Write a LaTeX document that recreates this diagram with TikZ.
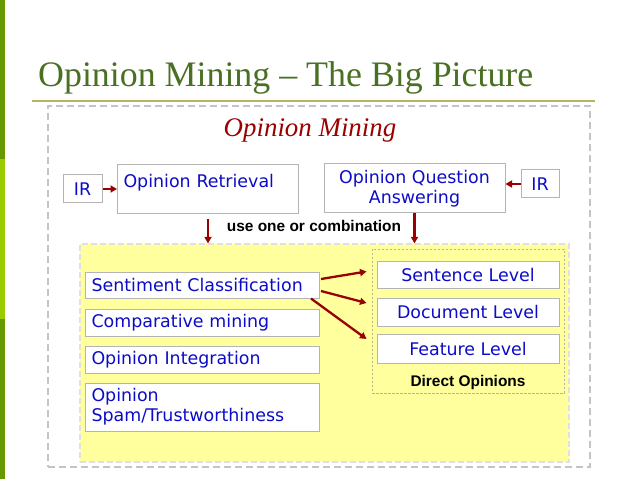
\documentclass[tikz,border=0pt]{standalone}
\usepackage{fontspec}
\setmainfont{Liberation Serif}
\newfontfamily\vfont{DejaVu Sans}
\newfontfamily\afont{Liberation Sans}
\usetikzlibrary{arrows.meta,calc}
\definecolor{titlegreen}{HTML}{4A7023}
\definecolor{bardark}{HTML}{669900}
\definecolor{barlight}{HTML}{99CC00}
\definecolor{uline}{HTML}{B4B464}
\definecolor{dashgray}{HTML}{C4C4C4}
\definecolor{boxgray}{HTML}{B4B4B4}
\definecolor{textblue}{HTML}{0C0CC8}
\definecolor{arrred}{HTML}{990000}
\definecolor{paleyellow}{HTML}{FFFF9E}
\definecolor{innerdash}{HTML}{B8B890}
\tikzset{
  bluebox/.style={draw=boxgray, fill=white, line width=1bp, text=textblue,
    font=\vfont\fontsize{17.5}{20}\selectfont, inner sep=0pt},
  leftbox/.style={bluebox, anchor=west, text width=222bp, align=left,
    inner xsep=6bp, minimum width=234bp},
  levelbox/.style={bluebox, minimum width=182bp, align=center},
  arr/.style={draw=arrred, line width=2.3bp, -{Triangle[length=6.5bp,width=7bp]}},
  boldlabel/.style={font=\afont\bfseries\fontsize{15.5}{18}\selectfont, text=black, inner sep=0pt, anchor=base},
}
\begin{document}
\begin{tikzpicture}[x=1bp,y=-1bp]
\useasboundingbox (0,0) rectangle (638,479);
\fill[white] (0,0) rectangle (638,479);
% side bar
\fill[bardark] (0,0) rectangle (5,159);
\fill[barlight] (0,159) rectangle (5,319);
\fill[bardark] (0,319) rectangle (5,479);
% title
\node[anchor=base west, inner sep=0pt, text=titlegreen, font=\fontsize{36}{40}\selectfont] (title) at (38,87) {Opinion Mining – The Big Picture};
\draw[uline, line width=2bp] (32,101) -- (595,101);
% outer dashed frame
\node[draw=dashgray, line width=1.5bp, dash pattern=on 7bp off 4bp, minimum width=542bp, minimum height=361bp, inner sep=0pt] (outer) at (319,286.5) {};
\node[anchor=base, inner sep=0pt, text=arrred, font=\itshape\fontsize{27}{30}\selectfont] (omtitle) at (310,137) {Opinion Mining};
% yellow area
\node[fill=paleyellow, draw=black!12, line width=1.2bp, dash pattern=on 6bp off 3bp, minimum width=489bp, minimum height=218bp, inner sep=0pt] (yellow) at (324.5,353) {};
\node[draw=innerdash, line width=0.6bp, dash pattern=on 2.5bp off 1.5bp, minimum width=192bp, minimum height=144bp, inner sep=0pt] (DO) at (468,321) {};
% top boxes
\node[bluebox, minimum width=39bp, minimum height=28bp] (IRa) at (82.5,189) {IR};
\node[bluebox, anchor=north west, text width=169bp, align=left, inner xsep=6bp, inner ysep=0pt, text height=23bp, text depth=26bp] (OR) at (117,164) {Opinion Retrieval};
\node[bluebox, minimum width=181bp, minimum height=49bp, align=center] (OQA) at (414.5,188.5) {Opinion Question\\Answering};
\node[bluebox, minimum width=38bp, minimum height=28bp] (IRb) at (540,184) {IR};
\draw[arr] (IRa.east) -- (IRa.east -| OR.west);
\draw[arr] (IRb.west) -- (IRb.west -| OQA.east);
\draw[arr] ($(OR.south)+(0,5)$) -- (OR.south |- yellow.north);
\draw[arr] (OQA.south) -- (OQA.south |- yellow.north);
\node[boldlabel] (use) at (314,232) {use one or combination};
% left boxes
\node[leftbox, minimum height=26bp] (SC) at (85,285) {Sentiment Classification};
\node[leftbox, minimum height=27bp] (CM) at (85,322.5) {Comparative mining};
\node[leftbox, minimum height=27bp] (OI) at (85,359.5) {Opinion Integration};
\node[leftbox, minimum height=48bp] (OS) at (85,407) {Opinion\\Spam/Trustworthiness};
% right boxes
\node[levelbox, minimum height=27bp] (SL) at (468,274.5) {Sentence Level};
\node[levelbox, minimum height=28bp] (DL) at (468,312) {Document Level};
\node[levelbox, minimum height=29bp] (FL) at (468,348.5) {Feature Level};
\node[boldlabel] (dotext) at (468,386) {Direct Opinions};
% arrows from sentiment classification
\draw[arr] ($(SC.east)+(1,-6)$) -- ($(SL.west)+(-10,-3)$);
\draw[arr] ($(SC.east)+(1,6)$) -- ($(DL.west)+(-10,-9)$);
\draw[arr] ($(SC.south east)+(-9,0)$) -- ($(FL.west)+(-10,-9.5)$);
\end{tikzpicture}
\end{document}
